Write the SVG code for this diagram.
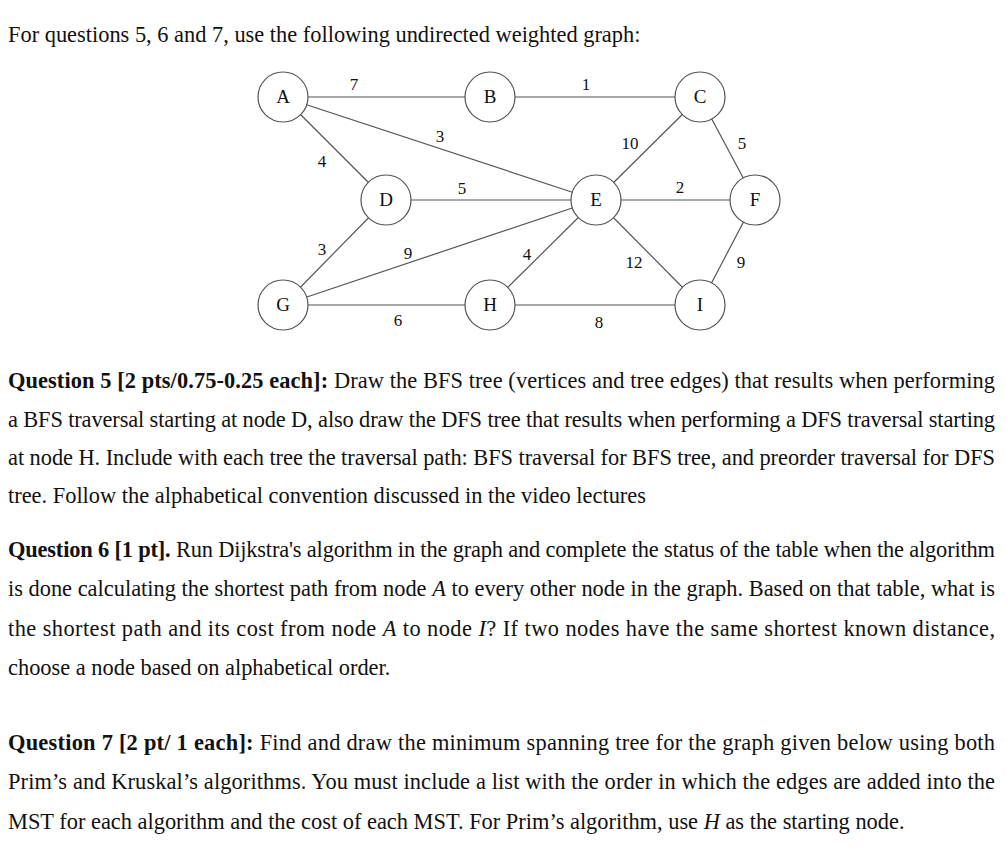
<svg xmlns="http://www.w3.org/2000/svg" width="1006" height="852" viewBox="0 0 1006 852">
<style>
text{font-family:"Liberation Serif","Times New Roman",serif;fill:#111}
.t{font-size:22.4px}
.b{font-weight:bold}
.w{font-size:17px;text-anchor:middle}
.n circle{fill:#fff;stroke:#555;stroke-width:1.2}
.n text{font-size:19px;text-anchor:middle}
#edges line{stroke:#555;stroke-width:1.2}
</style>
<rect width="1006" height="852" fill="#fff"/>
<text class="t" x="8" y="42">For questions 5, 6 and 7, use the following undirected weighted graph:</text>
<g id="edges">
<line x1="283" y1="97" x2="490" y2="97"/>
<line x1="490" y1="97" x2="700" y2="97"/>
<line x1="283" y1="97" x2="386" y2="200"/>
<line x1="283" y1="97" x2="596" y2="200"/>
<line x1="386" y1="200" x2="596" y2="200"/>
<line x1="700" y1="97" x2="596" y2="200"/>
<line x1="596" y1="200" x2="755" y2="200"/>
<line x1="700" y1="97" x2="755" y2="200"/>
<line x1="386" y1="200" x2="283" y2="305"/>
<line x1="283" y1="305" x2="596" y2="200"/>
<line x1="490" y1="305" x2="596" y2="200"/>
<line x1="596" y1="200" x2="700" y2="305"/>
<line x1="755" y1="200" x2="700" y2="305"/>
<line x1="283" y1="305" x2="490" y2="305"/>
<line x1="490" y1="305" x2="700" y2="305"/>
</g>
<g id="weights">
<text class="w" x="354" y="90">7</text>
<text class="w" x="586" y="90">1</text>
<text class="w" x="322" y="167">4</text>
<text class="w" x="440" y="142">3</text>
<text class="w" x="462" y="194">5</text>
<text class="w" x="630" y="149">10</text>
<text class="w" x="680" y="193">2</text>
<text class="w" x="742" y="149">5</text>
<text class="w" x="322" y="255">3</text>
<text class="w" x="408" y="259">9</text>
<text class="w" x="527" y="260">4</text>
<text class="w" x="634" y="268">12</text>
<text class="w" x="741" y="268">9</text>
<text class="w" x="398" y="326">6</text>
<text class="w" x="599" y="328">8</text>
</g>
<g id="A" class="n"><circle cx="283" cy="97" r="25"/><text x="283" y="103">A</text></g>
<g id="B" class="n"><circle cx="490" cy="97" r="25"/><text x="490" y="103">B</text></g>
<g id="C" class="n"><circle cx="700" cy="97" r="25"/><text x="700" y="103">C</text></g>
<g id="D" class="n"><circle cx="386" cy="200" r="25"/><text x="386" y="206">D</text></g>
<g id="E" class="n"><circle cx="596" cy="200" r="25"/><text x="596" y="206">E</text></g>
<g id="F" class="n"><circle cx="755" cy="200" r="25"/><text x="755" y="206">F</text></g>
<g id="G" class="n"><circle cx="283" cy="305" r="25"/><text x="283" y="311">G</text></g>
<g id="H" class="n"><circle cx="490" cy="305" r="25"/><text x="490" y="311">H</text></g>
<g id="I" class="n"><circle cx="700" cy="305" r="25"/><text x="700" y="311">I</text></g>
<g class="t">
<text x="8" y="388" textLength="987" lengthAdjust="spacing"><tspan class="b">Question 5 [2 pts/0.75-0.25 each]:</tspan> Draw the BFS tree (vertices and tree edges) that results when performing</text>
<text x="8" y="427" textLength="987" lengthAdjust="spacing">a BFS traversal starting at node D, also draw the DFS tree that results when performing a DFS traversal starting</text>
<text x="8" y="465" textLength="987" lengthAdjust="spacing">at node H. Include with each tree the traversal path: BFS traversal for BFS tree, and preorder traversal for DFS</text>
<text x="8" y="503">tree. Follow the alphabetical convention discussed in the video lectures</text>
<text x="8" y="557" textLength="987" lengthAdjust="spacing"><tspan class="b">Question 6 [1 pt].</tspan> Run Dijkstra's algorithm in the graph and complete the status of the table when the algorithm</text>
<text x="8" y="596" textLength="987" lengthAdjust="spacing">is done calculating the shortest path from node <tspan font-style="italic">A</tspan> to every other node in the graph. Based on that table, what is</text>
<text x="8" y="636" textLength="987" lengthAdjust="spacing">the shortest path and its cost from node <tspan font-style="italic">A</tspan> to node <tspan font-style="italic">I</tspan>? If two nodes have the same shortest known distance,</text>
<text x="8" y="675">choose a node based on alphabetical order.</text>
<text x="8" y="750" textLength="987" lengthAdjust="spacing"><tspan class="b">Question 7 [2 pt/ 1 each]:</tspan> Find and draw the minimum spanning tree for the graph given below using both</text>
<text x="8" y="789" textLength="987" lengthAdjust="spacing">Prim’s and Kruskal’s algorithms. You must include a list with the order in which the edges are added into the</text>
<text x="8" y="829">MST for each algorithm and the cost of each MST. For Prim’s algorithm, use <tspan font-style="italic">H</tspan> as the starting node.</text>
</g>
</svg>
